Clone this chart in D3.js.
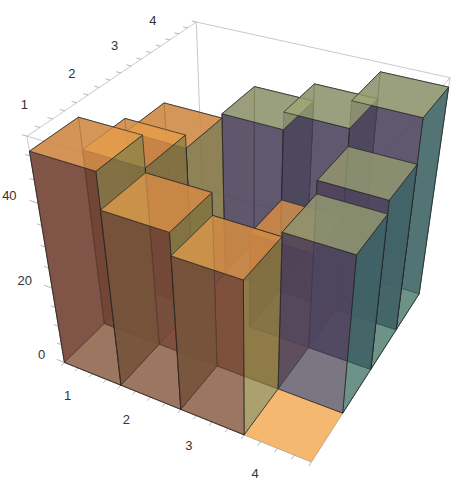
<!DOCTYPE html>
<html><head><meta charset="utf-8">
<script src="https://cdn.jsdelivr.net/npm/d3@7"></script>
<style>body{margin:0;background:#fff}</style></head>
<body><svg width="474" height="488"></svg>
<script>
// bar heights, rows = depth index (1..4), columns = front index (1..4)
var rowLabels = ["1", "2", "3", "4"];
var colLabels = ["1", "2", "3", "4"];
var row1 = [51, 43, 38, 0];
var row2 = [44, 0, 0, 39];
var row3 = [41, 0, 25, 42];
var row4 = [0, 42, 46, 52];
var zTicks = [0, 20, 40];
var heights = [row1, row2, row3, row4];
var zMax = 54;

var svg = d3.select("svg");
var eye = [1.3, -2.4, 2];
function sub(a,b){return [a[0]-b[0],a[1]-b[1],a[2]-b[2]];}
function dot(a,b){return a[0]*b[0]+a[1]*b[1]+a[2]*b[2];}
function cross(a,b){return [a[1]*b[2]-a[2]*b[1],a[2]*b[0]-a[0]*b[2],a[0]*b[1]-a[1]*b[0]];}
function norm(a){var l=Math.sqrt(dot(a,a));return [a[0]/l,a[1]/l,a[2]/l];}
var f = norm(sub([0,0,0],eye)), r = norm(cross(f,[0,0,1])), u = cross(r,f);
function raw(p){var v=sub(p,eye);var d=dot(v,f);return [dot(v,r)/d, -dot(v,u)/d];}
var corners=[];
[-0.5,0.5].forEach(function(a){[-0.5,0.5].forEach(function(b){[-0.5,0.5].forEach(function(c){corners.push(raw([a,b,c]));});});});
var sx = d3.scaleLinear().domain(d3.extent(corners,function(d){return d[0];})).range([27,450]);
var sy = d3.scaleLinear().domain(d3.extent(corners,function(d){return d[1];})).range([22,462]);
var xs = d3.scaleLinear().domain([0,4]).range([-0.5,0.5]);
var ys = d3.scaleLinear().domain([0,4]).range([-0.5,0.5]);
var zs = d3.scaleLinear().domain([0,zMax]).range([-0.5,0.5]);
function world(x,y,z){return [xs(x),ys(y),zs(z)];}
function P(x,y,z){var q=raw(world(x,y,z));return [sx(q[0]), sy(q[1])];}
function depth(x,y,z){var v=sub(world(x,y,z),eye);return dot(v,v);}

// box
var boxG = svg.append("g").attr("stroke","#bbb").attr("stroke-width",0.8);
var edges=[[[0,0,0],[4,0,0]],[[4,0,0],[4,4,0]],[[0,0,0],[0,0,zMax]],[[0,4,zMax],[0,4,0]],
  [[4,4,0],[4,4,zMax]],[[0,0,zMax],[0,4,zMax]],[[0,4,zMax],[4,4,zMax]],[[4,4,zMax],[4,0,zMax]],[[4,0,zMax],[0,0,zMax]]];
edges.forEach(function(e){var a=P.apply(null,e[0]),b=P.apply(null,e[1]);
  boxG.append("line").attr("x1",a[0]).attr("y1",a[1]).attr("x2",b[0]).attr("y2",b[1]);});

// ticks
var tickG = svg.append("g").attr("stroke","#999").attr("stroke-width",0.7);
function tick(p, q){var a=P.apply(null,p),b=P.apply(null,q);
  tickG.append("line").attr("x1",a[0]).attr("y1",a[1]).attr("x2",b[0]).attr("y2",b[1]);}
d3.range(0,4.01,0.25).forEach(function(t){ tick([t,0,0],[t,-0.08,0]); tick([0,t,zMax],[-0.08,t,zMax]); });
d3.range(0,zMax,5).forEach(function(z){ tick([0,0,z],[z%20==0?-0.14:-0.08,0,z]); });

var txt = svg.append("g").attr("font-family","Liberation Sans, Arial").attr("font-size",13).attr("fill","#333");
zTicks.forEach(function(z){var p=P(-0.35,0,z);
  txt.append("text").attr("x",p[0]).attr("y",p[1]+4).attr("text-anchor","end").text(z);});
colLabels.forEach(function(l,i){var p=P(i+0.5,-0.4,0);
  txt.append("text").attr("x",p[0]-8).attr("y",p[1]+9).attr("text-anchor","middle").text(l);});
rowLabels.forEach(function(l,j){var p=P(-0.35,j+0.5,zMax);
  txt.append("text").attr("x",p[0]-6).attr("y",p[1]-4).attr("text-anchor","middle").text(l);});

// colours: orange bars in front, sage bars along the back row and right column
var pal = {
  top:   ["#eca24c","#a3ae78"],
  floor: ["#f2ac58","#a3ae78"],
  front: ["#6e4636","#4e4660"],
  back:  ["#7a4030","#4e4454"],
  right: ["#86844a","#3a6e6a"],
  left:  ["#7a3628","#4e3e4e"]
};
function col(face,i,j,h){ return pal[face][(h>0 && (i==3||j==3))?1:0]; }

var faces=[];
heights.forEach(function(row,j){ row.forEach(function(h,i){
  var x0=i,x1=i+1,y0=j,y1=j+1;
  var list=[
    {n:"top",  pts:[[x0,y0,h],[x1,y0,h],[x1,y1,h],[x0,y1,h]]},
    {n:"floor",pts:[[x0,y0,0],[x1,y0,0],[x1,y1,0],[x0,y1,0]], floor:true},
    {n:"front",pts:[[x0,y0,0],[x1,y0,0],[x1,y0,h],[x0,y0,h]]},
    {n:"back", pts:[[x0,y1,0],[x1,y1,0],[x1,y1,h],[x0,y1,h]]},
    {n:"right",pts:[[x1,y0,0],[x1,y1,0],[x1,y1,h],[x1,y0,h]]},
    {n:"left", pts:[[x0,y0,0],[x0,y1,0],[x0,y1,h],[x0,y0,h]]}
  ];
  list.forEach(function(fc){
    if(h==0 && !fc.floor) return;
    var c=[0,0,0]; fc.pts.forEach(function(p){c[0]+=p[0]/4;c[1]+=p[1]/4;c[2]+=p[2]/4;});
    faces.push({pts:fc.pts, fill:col(fc.n,i,j,h), d:depth(c[0],c[1],c[2]), zero:h==0, floor:!!fc.floor});
  });
});});
faces.sort(function(a,b){return b.d-a.d;});
svg.append("g").selectAll("path").data(faces).enter().append("path")
  .attr("d",function(fc){return "M"+fc.pts.map(function(p){return P(p[0],p[1],p[2]);}).join("L")+"Z";})
  .attr("fill",function(fc){return fc.fill;})
  .attr("fill-opacity",function(fc){return fc.zero?0.85:(fc.floor?0.4:0.68);})
  .attr("stroke","#222").attr("stroke-opacity",function(fc){return fc.zero?0.15:0.8;})
  .attr("stroke-width",0.8).attr("stroke-linejoin","round");
</script></body></html>
